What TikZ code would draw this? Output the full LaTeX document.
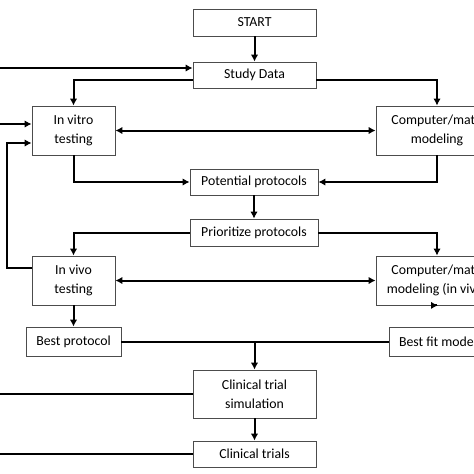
\documentclass[tikz,border=0pt]{standalone}
\usepackage{fontspec}
\setmainfont{Carlito}
\usepackage{tikz}
\usetikzlibrary{arrows.meta}

\begin{document}
\begin{tikzpicture}[x=1pt, y=-1pt, >={Latex[length=7pt,width=7.5pt]},
    box/.style={draw=black!70, line width=0.8pt, fill=white, align=center,
                inner sep=0pt, font=\fontsize{13.8}{19}\selectfont},
    flow/.style={line width=2pt}]
            \useasboundingbox (0,0) rectangle (474,474);
            \clip (0,0) rectangle (474,474);

            \node[box, minimum width=123pt, minimum height=27pt] (start) at (254.5,22.5) {START};
            \node[box, minimum width=123pt, minimum height=26pt] (study) at (254.5,75) {Study Data};
            \node[box, minimum width=83pt, minimum height=49pt] (invitro) at (73.5,130.5) {In vitro\\testing};
            \node[box, minimum width=122pt, minimum height=49pt] (comp) at (437,130.5) {Computer/math\\modeling};
            \node[box, minimum width=128pt, minimum height=26pt] (potential) at (254,182) {Potential protocols};
            \node[box, minimum width=128pt, minimum height=27pt] (prioritize) at (254,232.5) {Prioritize protocols};
            \node[box, minimum width=83pt, minimum height=49pt] (invivo) at (73.5,280.5) {In vivo\\testing};
            \node[box, minimum width=122pt, minimum height=49pt] (compvivo) at (437,280.5) {Computer/math\\modeling (in vivo)};
            \node[box, minimum width=95pt, minimum height=29pt] (bestprot) at (73.5,341.5) {Best protocol};
            \node[box, minimum width=98pt, minimum height=29pt] (bestfit) at (438,341.5) {Best fit model};
            \node[box, minimum width=123pt, minimum height=48pt] (sim) at (254.5,394) {Clinical trial\\simulation};
            \node[box, minimum width=123pt, minimum height=26pt] (trials) at (254.5,454) {Clinical trials};

            % feedback loops leaving the left edge
            \coordinate (loopA) at (-12,0);
            \coordinate (loopB) at (-24,0);
            \coordinate (loopC) at (7,0);

            \draw[flow, ->] (start) -- (study);
            \draw[flow, ->] ([yshift=-5pt]study.west) -| (invitro.north);
            \draw[flow, ->] ([yshift=-5pt]study.east) -| (comp.north);
            \draw[flow, <->] (invitro) -- (comp);
            \draw[flow, ->] (invitro.south) |- (potential.west);
            \draw[flow, ->] (comp.south) |- (potential.east);
            \draw[flow, ->] (potential) -- (prioritize);
            \draw[flow, ->] (prioritize.west) -| (invivo.north);
            \draw[flow, ->] (prioritize.east) -| (compvivo.north);
            \draw[flow, <->] (invivo) -- (compvivo);
            \draw[flow, ->] ([yshift=12.5pt]invivo.west) -- ([yshift=12.5pt]invivo.west -| loopC)
                |- ([yshift=-12.5pt]invitro.west);
            \draw[flow, ->] (invivo) -- (bestprot);
            \draw[flow, ->] (compvivo.south) -- (compvivo.south -| bestfit);
            \draw[flow] (bestprot) -- (bestfit);
            \draw[flow, ->] (bestprot.east -| sim) -- (sim.north);
            \draw[flow, ->] (sim) -- (trials);

            \draw[flow, ->] (sim.west) -- (sim.west -| loopA) |- ([yshift=7pt]study.west);
            \draw[flow, ->] (trials.west) -- (trials.west -| loopB) |- ([yshift=6.5pt]invitro.west);
        \end{tikzpicture}
\end{document}
